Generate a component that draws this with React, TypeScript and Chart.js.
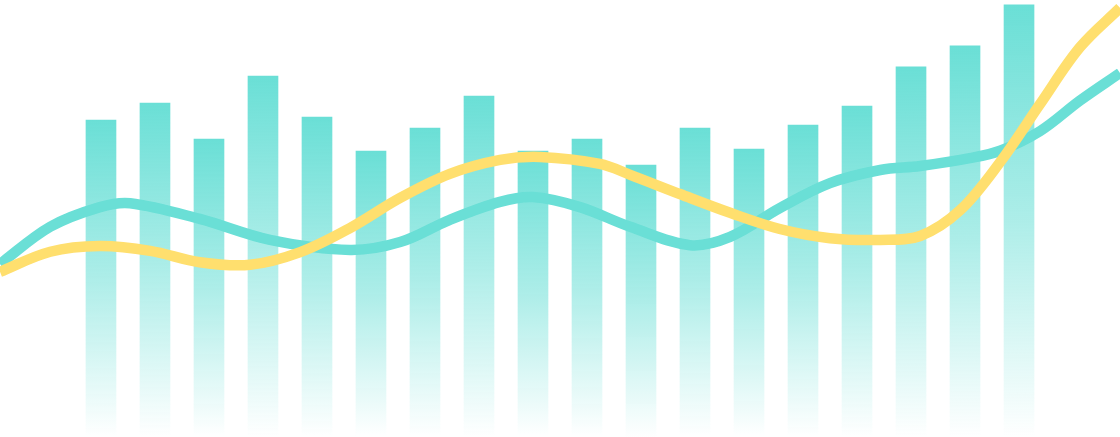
import React, { useEffect, useRef } from "react";
import { Chart, registerables } from "chart.js";

Chart.register(...registerables);

// Bar values (one per category, index 0..17)
const barValues = [72.5, 76.4, 68.2, 82.6, 73.2, 65.4, 70.7, 78.0, 65.4, 68.2, 62.2, 70.7, 65.9, 71.4, 75.7, 84.7, 89.5, 98.9];

// Teal line: positions on the category index axis and values
const tealX = [-1.87, -0.94, -0.02, 0.54, 1.83, 3.13, 4.61, 5.54, 6.46, 7.39, 8.0, 8.87, 9.8, 10.91, 11.65, 12.57, 13.5, 14.43, 15.17, 16.09, 16.65, 17.39, 18.13, 18.87];
const tealY = [39.6, 48.1, 52.6, 53.5, 49.9, 45.1, 42.8, 44.6, 49.7, 53.8, 54.9, 52.6, 48.1, 43.9, 45.8, 52.4, 58.1, 61.1, 62.0, 63.8, 65.5, 70.0, 77.0, 83.3];

// Yellow line
const yellowX = [-1.87, -0.94, -0.02, 0.91, 1.83, 2.76, 3.69, 4.61, 5.54, 6.46, 7.39, 8.13, 9.24, 9.8, 10.72, 11.65, 12.57, 13.5, 14.43, 15.17, 15.91, 16.65, 17.39, 18.13, 18.87];
const yellowY = [37.8, 42.4, 43.7, 42.6, 40.0, 39.4, 42.3, 47.8, 54.7, 60.2, 63.4, 64.1, 62.5, 60.0, 55.6, 51.3, 47.6, 45.5, 45.1, 46.0, 51.9, 62.9, 76.2, 89.2, 98.2];

const X_MIN = -1.87;
const X_MAX = 18.87;
const Y_MIN = 0;
const Y_MAX = 100;

const TEAL = "rgb(106,223,214)";
const YELLOW = "rgb(255,223,110)";

export default function App() {
  const canvasRef = useRef<HTMLCanvasElement | null>(null);

  useEffect(() => {
    if (!canvasRef.current) return;
    const chart = new Chart(canvasRef.current, {
      type: "bar",
      data: {
        datasets: [
          {
            type: "line",
            label: "yellow",
            data: yellowX.map((x, i) => ({ x, y: yellowY[i] })),
            borderColor: YELLOW,
            borderWidth: 10.5,
            pointRadius: 0,
            fill: false,
            tension: 0.35,
            borderJoinStyle: "round",
            order: 0,
          } as any,
          {
            type: "line",
            label: "teal",
            data: tealX.map((x, i) => ({ x, y: tealY[i] })),
            borderColor: TEAL,
            borderWidth: 10.5,
            pointRadius: 0,
            fill: false,
            tension: 0.35,
            borderJoinStyle: "round",
            order: 1,
          } as any,
          {
            type: "bar",
            label: "bars",
            data: barValues.map((v, i) => ({ x: i, y: v })),
            barThickness: 30,
            borderWidth: 0,
            order: 2,
            backgroundColor: (ctx: any) => {
              const c = ctx.chart;
              const ys = c.scales && c.scales.y;
              const v = ctx.parsed ? ctx.parsed.y : undefined;
              if (!ys || v === undefined || !c.chartArea) return TEAL;
              const top = ys.getPixelForValue(v);
              const bottom = ys.getPixelForValue(0);
              if (!isFinite(top) || !isFinite(bottom)) return TEAL;
              const g = c.ctx.createLinearGradient(0, top, 0, bottom);
              g.addColorStop(0, "rgba(106,223,214,1)");
              g.addColorStop(0.5, "rgba(106,223,214,0.55)");
              g.addColorStop(1, "rgba(106,223,214,0)");
              return g;
            },
          } as any,
        ],
      },
      options: {
        animation: false,
        responsive: true,
        maintainAspectRatio: false,
        layout: { padding: 0 },
        plugins: {
          legend: { display: false },
          tooltip: { enabled: false },
        },
        scales: {
          x: {
            type: "linear",
            min: X_MIN,
            max: X_MAX,
            offset: false,
            display: false,
            grid: { display: false },
          },
          y: {
            type: "linear",
            min: Y_MIN,
            max: Y_MAX,
            display: false,
            grid: { display: false },
          },
        },
      } as any,
    });
    return () => chart.destroy();
  }, []);

  return (
    <div
      style={{
        position: "fixed",
        left: 0,
        top: 0,
        width: "1120px",
        height: "437px",
        background: "#ffffff",
      }}
    >
      <canvas ref={canvasRef} />
    </div>
  );
}
